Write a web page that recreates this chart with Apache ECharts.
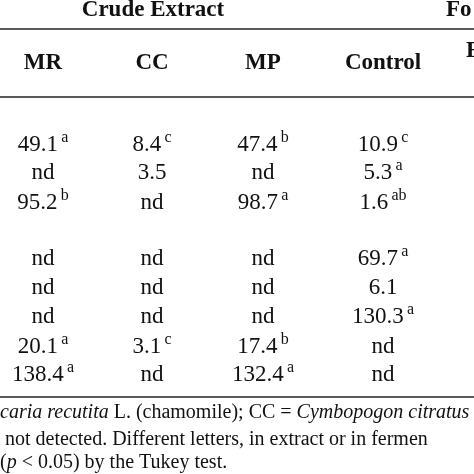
<!DOCTYPE html>
<html>
<head>
<meta charset="utf-8">
<script src="https://cdn.jsdelivr.net/npm/echarts@6/dist/echarts.min.js"></script>
<style>html,body{margin:0;padding:0;background:#fff;}#chart{width:474px;height:474px;}</style>
</head>
<body>
<div id="chart"></div>
<script>
// table content
const columns = ['MR', 'CC', 'MP', 'Control'];
const columnX = [43, 152, 263, 383];
const rowY = [145, 173, 203, 259, 288, 317, 347, 375];
const values = [
    ['49.1', '8.4', '47.4', '10.9'],
    ['nd', '3.5', 'nd', '5.3'],
    ['95.2', 'nd', '98.7', '1.6'],
    ['nd', 'nd', 'nd', '69.7'],
    ['nd', 'nd', 'nd', '6.1'],
    ['nd', 'nd', 'nd', '130.3'],
    ['20.1', '3.1', '17.4', 'nd'],
    ['138.4', 'nd', '132.4', 'nd']
];
const letters = [
    ['a', 'c', 'b', 'c'],
    ['', '', '', 'a'],
    ['b', '', 'a', 'ab'],
    ['', '', '', 'a'],
    ['', '', '', ''],
    ['', '', '', 'a'],
    ['a', 'c', 'b', ''],
    ['a', '', 'a', '']
];

const font = '"Liberation Serif", "DejaVu Serif", serif';
const chart = echarts.init(document.getElementById('chart'));
const elements = [];

elements.push({type: 'text', x: 153, y: 10, style: {text: 'Crude Extract', font: 'bold 23px ' + font, fill: '#111', align: 'center', verticalAlign: 'middle'}});
elements.push({type: 'text', x: 446, y: 10, style: {text: 'Fo', font: 'bold 23px ' + font, fill: '#111', verticalAlign: 'middle'}});
elements.push({type: 'text', x: 466, y: 51, style: {text: 'F', font: 'bold 23px ' + font, fill: '#111', verticalAlign: 'middle'}});

[29, 97, 397].forEach(y => {
    elements.push({type: 'line', shape: {x1: 0, y1: y, x2: 474, y2: y}, style: {stroke: '#222', lineWidth: 1.5}});
});

columns.forEach((c, i) => {
    elements.push({type: 'text', x: columnX[i], y: 63, style: {text: c, font: 'bold 23px ' + font, fill: '#111', align: 'center', verticalAlign: 'middle'}});
});

values.forEach((row, r) => {
    row.forEach((v, c) => {
        const sup = letters[r][c];
        elements.push({
            type: 'text', x: columnX[c], y: rowY[r],
            style: {
                text: sup ? '{n|' + v + '} {s|' + sup + '}' : '{n|' + v + '}',
                align: 'center', verticalAlign: 'middle',
                rich: {
                    n: {font: '23px ' + font, fill: '#111'},
                    s: {font: '16px ' + font, fill: '#111', padding: [0, 0, 14, 0]}
                }
            }
        });
    });
});

const rich = {
    r: {font: '20px ' + font, fill: '#111'},
    i: {font: 'italic 20px ' + font, fill: '#111'}
};
const notes = [
    '{i|caria recutita}{r| L. (chamomile); CC = }{i|Cymbopogon citratus}',
    '{r| not detected. Different letters, in extract or in fermen}',
    '{r|(}{i|p}{r| < 0.05) by the Tukey test.}'
];
const noteY = [413, 440, 463];
notes.forEach((t, i) => {
    elements.push({type: 'text', x: 0, y: noteY[i], style: {text: t, rich: rich, verticalAlign: 'middle'}});
});

chart.setOption({graphic: {elements: elements}});
</script>
</body>
</html>
